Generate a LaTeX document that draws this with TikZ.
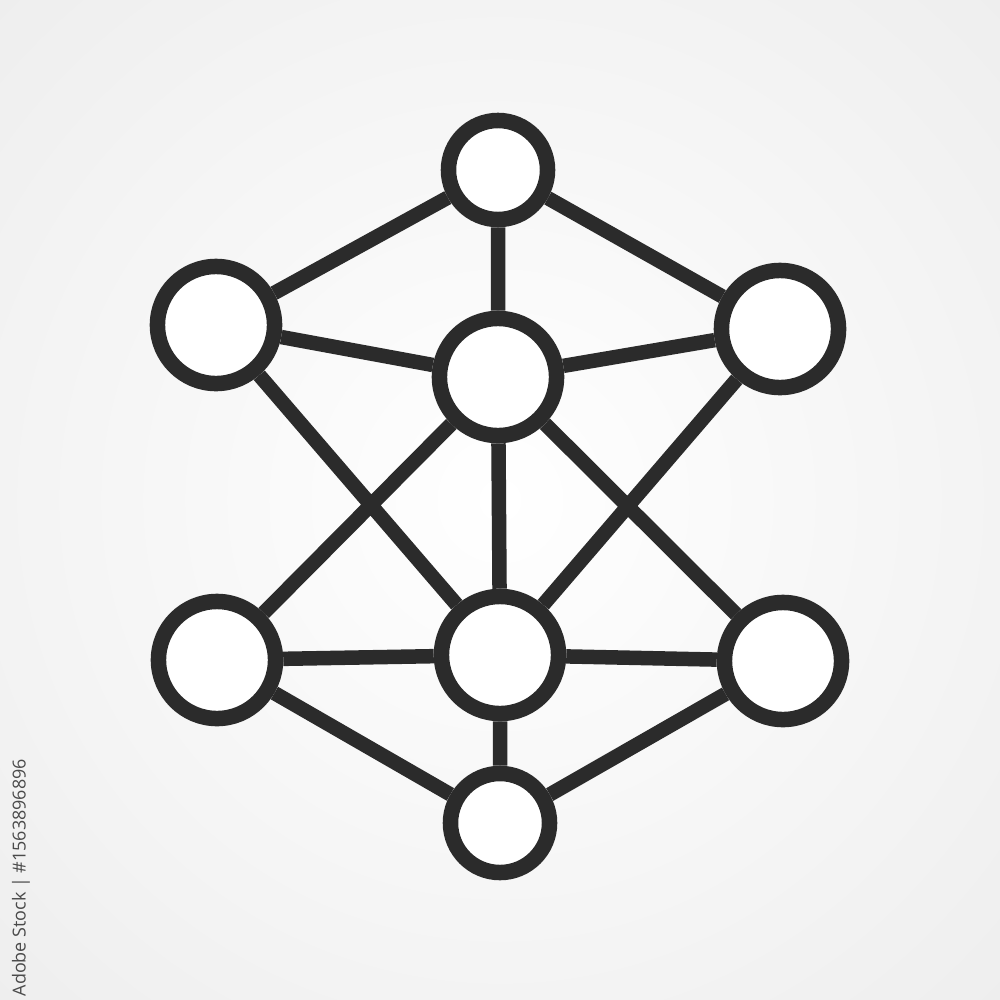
\documentclass[tikz,border=0pt]{standalone}
\usepackage{fontspec}
\newfontfamily\wmfont{Open Sans}
\definecolor{ink}{HTML}{2B2B2B}
\definecolor{wm}{HTML}{4A4A4A}
\begin{document}
\begin{tikzpicture}[x=0.01cm,y=-0.01cm,
  big/.style={circle,draw=ink,fill=white,line width=0.155cm,minimum size=1.17cm,inner sep=0pt},
  small/.style={circle,draw=ink,fill=white,line width=0.155cm,minimum size=0.99cm,inner sep=0pt},
  link/.style={draw=ink,line width=0.145cm}]
\useasboundingbox (0,0) rectangle (1000,1000);
\shade[inner color=white,outer color=black!7] (-250,-250) rectangle (1250,1250);
\node[small] (T)  at (498,170) {};
\node[big]   (LU) at (216,325) {};
\node[big]   (RU) at (780,329) {};
\node[big]   (CU) at (498,377) {};
\node[big]   (LL) at (217,660) {};
\node[big]   (CL) at (500,655) {};
\node[big]   (RL) at (783,661) {};
\node[small] (B)  at (500,823) {};
\path[link] (T) -- (LU) (T) -- (RU) (T) -- (CU)
  (LU) -- (CU) (RU) -- (CU)
  (LU) -- (CL) (RU) -- (CL)
  (CU) -- (LL) (CU) -- (RL) (CU) -- (CL)
  (LL) -- (CL) (CL) -- (RL)
  (LL) -- (B) (RL) -- (B) (CL) -- (B);
\node[rotate=90,anchor=west,inner sep=0pt,text=wm,font=\wmfont\fontsize{5.1pt}{5.2pt}\selectfont] (W) at (21,997) {Adobe Stock | \#1563896896};
\end{tikzpicture}
\end{document}
